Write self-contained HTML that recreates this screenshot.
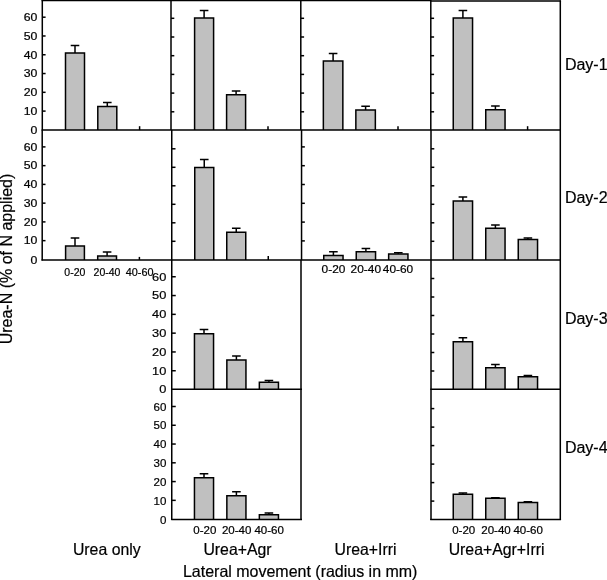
<!DOCTYPE html>
<html lang="en"><head><meta charset="utf-8"><title>Urea-N lateral movement</title>
<style>html,body{margin:0;padding:0;background:#fff}body{width:607px;height:580px;overflow:hidden}svg{display:block}</style>
</head><body>
<svg width="607" height="580" viewBox="0 0 607 580">
<rect width="607" height="580" fill="#fff"/>
<g stroke="#000" stroke-width="1.5" fill="none" stroke-linecap="butt" stroke-linejoin="miter">
<path d="M75.00 53.00V45.60M70.70 45.60H79.30"/>
<path d="M65.50 130.10V53.00H84.50V130.10" fill="#c0c0c0"/>
<path d="M107.30 106.40V102.60M103.00 102.60H111.60"/>
<path d="M97.80 130.10V106.40H116.80V130.10" fill="#c0c0c0"/>
<path d="M139.60 130.10V126.20"/>
<path d="M42.30 17.20h3.3"/>
<path d="M42.30 35.98h3.3"/>
<path d="M42.30 54.76h3.3"/>
<path d="M42.30 73.54h3.3"/>
<path d="M42.30 92.32h3.3"/>
<path d="M42.30 111.10h3.3"/>
<path d="M204.10 18.00V10.40M199.80 10.40H208.40"/>
<path d="M194.60 130.10V18.00H213.60V130.10" fill="#c0c0c0"/>
<path d="M236.10 94.70V90.90M231.80 90.90H240.40"/>
<path d="M226.60 130.10V94.70H245.60V130.10" fill="#c0c0c0"/>
<path d="M268.00 130.10V126.20"/>
<path d="M171.00 18.30h3.3"/>
<path d="M171.00 37.00h3.3"/>
<path d="M171.00 55.70h3.3"/>
<path d="M171.00 74.40h3.3"/>
<path d="M171.00 93.10h3.3"/>
<path d="M171.00 111.80h3.3"/>
<path d="M333.10 61.00V53.60M328.80 53.60H337.40"/>
<path d="M323.35 130.10V61.00H342.85V130.10" fill="#c0c0c0"/>
<path d="M365.60 110.00V106.20M361.30 106.20H369.90"/>
<path d="M355.85 130.10V110.00H375.35V130.10" fill="#c0c0c0"/>
<path d="M398.00 130.10V126.20"/>
<path d="M300.80 18.30h3.3"/>
<path d="M300.80 37.00h3.3"/>
<path d="M300.80 55.70h3.3"/>
<path d="M300.80 74.40h3.3"/>
<path d="M300.80 93.10h3.3"/>
<path d="M300.80 111.80h3.3"/>
<path d="M462.90 18.00V10.40M458.60 10.40H467.20"/>
<path d="M453.25 130.10V18.00H472.55V130.10" fill="#c0c0c0"/>
<path d="M495.40 109.70V105.90M491.10 105.90H499.70"/>
<path d="M485.75 130.10V109.70H505.05V130.10" fill="#c0c0c0"/>
<path d="M527.60 130.10V126.20"/>
<path d="M430.80 18.30h3.3"/>
<path d="M430.80 37.00h3.3"/>
<path d="M430.80 55.70h3.3"/>
<path d="M430.80 74.40h3.3"/>
<path d="M430.80 93.10h3.3"/>
<path d="M430.80 111.80h3.3"/>
<path d="M75.00 245.90V237.90M70.70 237.90H79.30"/>
<path d="M65.60 259.90V245.90H84.40V259.90" fill="#c0c0c0"/>
<path d="M107.10 255.90V251.90M102.80 251.90H111.40"/>
<path d="M97.70 259.90V255.90H116.50V259.90" fill="#c0c0c0"/>
<path d="M139.40 259.90V256.90"/>
<path d="M42.20 146.90h3.3"/>
<path d="M42.20 165.65h3.3"/>
<path d="M42.20 184.40h3.3"/>
<path d="M42.20 203.15h3.3"/>
<path d="M42.20 221.90h3.3"/>
<path d="M42.20 240.65h3.3"/>
<path d="M204.25 167.40V159.40M199.95 159.40H208.55"/>
<path d="M194.75 259.90V167.40H213.75V259.90" fill="#c0c0c0"/>
<path d="M236.25 232.15V228.15M231.95 228.15H240.55"/>
<path d="M226.75 259.90V232.15H245.75V259.90" fill="#c0c0c0"/>
<path d="M268.25 259.90V256.00"/>
<path d="M171.75 148.80h3.75"/>
<path d="M171.75 167.30h3.75"/>
<path d="M171.75 185.80h3.75"/>
<path d="M171.75 204.30h3.75"/>
<path d="M171.75 222.80h3.75"/>
<path d="M171.75 241.30h3.75"/>
<path d="M333.40 255.60V251.70M329.10 251.70H337.70"/>
<path d="M323.75 259.90V255.60H343.05V259.90" fill="#c0c0c0"/>
<path d="M365.90 251.80V248.50M361.60 248.50H370.20"/>
<path d="M356.25 259.90V251.80H375.55V259.90" fill="#c0c0c0"/>
<path d="M398.30 253.90V252.70M394.00 252.70H402.60"/>
<path d="M388.65 259.90V253.90H407.95V259.90" fill="#c0c0c0"/>
<path d="M301.55 146.90h3.3"/>
<path d="M301.55 165.70h3.3"/>
<path d="M301.55 184.50h3.3"/>
<path d="M301.55 203.30h3.3"/>
<path d="M301.55 222.10h3.3"/>
<path d="M301.55 240.90h3.3"/>
<path d="M462.90 201.00V197.00M458.60 197.00H467.20"/>
<path d="M453.25 259.90V201.00H472.55V259.90" fill="#c0c0c0"/>
<path d="M495.40 228.20V224.90M491.10 224.90H499.70"/>
<path d="M485.75 259.90V228.20H505.05V259.90" fill="#c0c0c0"/>
<path d="M527.90 239.50V238.10M523.60 238.10H532.20"/>
<path d="M518.25 259.90V239.50H537.55V259.90" fill="#c0c0c0"/>
<path d="M431.00 148.80h3.3"/>
<path d="M431.00 167.30h3.3"/>
<path d="M431.00 185.80h3.3"/>
<path d="M431.00 204.30h3.3"/>
<path d="M431.00 222.80h3.3"/>
<path d="M431.00 241.30h3.3"/>
<path d="M204.00 333.65V329.40M199.70 329.40H208.30"/>
<path d="M194.45 389.30V333.65H213.55V389.30" fill="#c0c0c0"/>
<path d="M236.40 359.90V355.90M232.10 355.90H240.70"/>
<path d="M226.85 389.30V359.90H245.95V389.30" fill="#c0c0c0"/>
<path d="M268.90 382.15V380.50M264.60 380.50H273.20"/>
<path d="M259.35 389.30V382.15H278.45V389.30" fill="#c0c0c0"/>
<path d="M171.75 276.75h4.0"/>
<path d="M171.75 295.55h4.0"/>
<path d="M171.75 314.35h4.0"/>
<path d="M171.75 333.15h4.0"/>
<path d="M171.75 351.95h4.0"/>
<path d="M171.75 370.75h4.0"/>
<path d="M462.90 341.65V337.65M458.60 337.65H467.20"/>
<path d="M453.25 389.30V341.65H472.55V389.30" fill="#c0c0c0"/>
<path d="M495.40 367.65V364.40M491.10 364.40H499.70"/>
<path d="M485.75 389.30V367.65H505.05V389.30" fill="#c0c0c0"/>
<path d="M527.90 376.65V375.40M523.60 375.40H532.20"/>
<path d="M518.25 389.30V376.65H537.55V389.30" fill="#c0c0c0"/>
<path d="M431.00 278.50h3.3"/>
<path d="M431.00 297.00h3.3"/>
<path d="M431.00 315.50h3.3"/>
<path d="M431.00 334.00h3.3"/>
<path d="M431.00 352.50h3.3"/>
<path d="M431.00 371.00h3.3"/>
<path d="M204.00 477.70V473.70M199.70 473.70H208.30"/>
<path d="M194.45 519.40V477.70H213.55V519.40" fill="#c0c0c0"/>
<path d="M236.40 495.70V491.70M232.10 491.70H240.70"/>
<path d="M226.85 519.40V495.70H245.95V519.40" fill="#c0c0c0"/>
<path d="M268.90 514.70V513.10M264.60 513.10H273.20"/>
<path d="M259.35 519.40V514.70H278.45V519.40" fill="#c0c0c0"/>
<path d="M171.75 406.50h4.0"/>
<path d="M171.75 425.27h4.0"/>
<path d="M171.75 444.04h4.0"/>
<path d="M171.75 462.81h4.0"/>
<path d="M171.75 481.58h4.0"/>
<path d="M171.75 500.35h4.0"/>
<path d="M462.90 494.20V493.00M458.60 493.00H467.20"/>
<path d="M453.25 519.40V494.20H472.55V519.40" fill="#c0c0c0"/>
<path d="M495.40 498.20V497.70M491.10 497.70H499.70"/>
<path d="M485.75 519.40V498.20H505.05V519.40" fill="#c0c0c0"/>
<path d="M527.90 502.40V501.70M523.60 501.70H532.20"/>
<path d="M518.25 519.40V502.40H537.55V519.40" fill="#c0c0c0"/>
<path d="M431.00 408.60h3.3"/>
<path d="M431.00 427.10h3.3"/>
<path d="M431.00 445.60h3.3"/>
<path d="M431.00 464.10h3.3"/>
<path d="M431.00 482.60h3.3"/>
<path d="M431.00 501.10h3.3"/>
<path d="M41.6 0.5H430.8M430.8 1.0H561.05"/>
<path d="M41.6 130.1H560.3M41.5 259.9H560.3"/>
<path d="M171.3 389.3H302M430.3 389.3H560.3"/>
<path d="M171.3 519.4H302M430.2 519.4H561.05"/>
<path d="M42.3 0V130.1M42.2 130.1V260.6"/>
<path d="M171.0 0V130.1M171.75 130.1V520.1"/>
<path d="M300.8 0V130.1M301.55 130.1V259.9M301.0 259.9V520.1"/>
<path d="M430.8 0V130.1M431.0 130.1V520.1"/>
<path d="M560.3 0.4V520.1"/>
</g>
<g font-family="Liberation Sans, Arial, Helvetica, sans-serif" fill="#000" stroke="#000" stroke-width="0.2">
<text transform="translate(37.30 20.95) scale(1.17 1)" font-size="10.5" text-anchor="end">60</text>
<text transform="translate(37.30 39.73) scale(1.17 1)" font-size="10.5" text-anchor="end">50</text>
<text transform="translate(37.30 58.51) scale(1.17 1)" font-size="10.5" text-anchor="end">40</text>
<text transform="translate(37.30 77.29) scale(1.17 1)" font-size="10.5" text-anchor="end">30</text>
<text transform="translate(37.30 96.07) scale(1.17 1)" font-size="10.5" text-anchor="end">20</text>
<text transform="translate(37.30 114.85) scale(1.17 1)" font-size="10.5" text-anchor="end">10</text>
<text transform="translate(37.30 133.85) scale(1.17 1)" font-size="10.5" text-anchor="end">0</text>
<text transform="translate(37.30 150.65) scale(1.17 1)" font-size="10.5" text-anchor="end">60</text>
<text transform="translate(37.30 169.40) scale(1.17 1)" font-size="10.5" text-anchor="end">50</text>
<text transform="translate(37.30 188.15) scale(1.17 1)" font-size="10.5" text-anchor="end">40</text>
<text transform="translate(37.30 206.90) scale(1.17 1)" font-size="10.5" text-anchor="end">30</text>
<text transform="translate(37.30 225.65) scale(1.17 1)" font-size="10.5" text-anchor="end">20</text>
<text transform="translate(37.30 244.40) scale(1.17 1)" font-size="10.5" text-anchor="end">10</text>
<text transform="translate(37.30 263.65) scale(1.17 1)" font-size="10.5" text-anchor="end">0</text>
<text transform="translate(166.30 280.60) scale(1.095 1)" font-size="11.7" text-anchor="end">60</text>
<text transform="translate(166.30 299.40) scale(1.095 1)" font-size="11.7" text-anchor="end">50</text>
<text transform="translate(166.30 318.20) scale(1.095 1)" font-size="11.7" text-anchor="end">40</text>
<text transform="translate(166.30 337.00) scale(1.095 1)" font-size="11.7" text-anchor="end">30</text>
<text transform="translate(166.30 355.80) scale(1.095 1)" font-size="11.7" text-anchor="end">20</text>
<text transform="translate(166.30 374.60) scale(1.095 1)" font-size="11.7" text-anchor="end">10</text>
<text transform="translate(166.30 393.15) scale(1.095 1)" font-size="11.7" text-anchor="end">0</text>
<text transform="translate(166.30 410.65) scale(1.05 1)" font-size="11" text-anchor="end">60</text>
<text transform="translate(166.30 429.42) scale(1.05 1)" font-size="11" text-anchor="end">50</text>
<text transform="translate(166.30 448.19) scale(1.05 1)" font-size="11" text-anchor="end">40</text>
<text transform="translate(166.30 466.96) scale(1.05 1)" font-size="11" text-anchor="end">30</text>
<text transform="translate(166.30 485.73) scale(1.05 1)" font-size="11" text-anchor="end">20</text>
<text transform="translate(166.30 504.50) scale(1.05 1)" font-size="11" text-anchor="end">10</text>
<text transform="translate(166.30 523.55) scale(1.05 1)" font-size="11" text-anchor="end">0</text>
<text transform="translate(74.80 275.50) scale(1.000 1)" font-size="10.5" text-anchor="middle">0-20</text>
<text transform="translate(107.00 275.50) scale(1.000 1)" font-size="10.5" text-anchor="middle">20-40</text>
<text transform="translate(139.60 275.50) scale(1.035 1)" font-size="10.5" text-anchor="middle">40-60</text>
<text transform="translate(333.50 273.20) scale(1.080 1)" font-size="11" text-anchor="middle">0-20</text>
<text transform="translate(365.80 273.20) scale(1.080 1)" font-size="11" text-anchor="middle">20-40</text>
<text transform="translate(398.00 273.20) scale(1.080 1)" font-size="11" text-anchor="middle">40-60</text>
<text transform="translate(204.90 533.50) scale(1.100 1)" font-size="10.5" text-anchor="middle">0-20</text>
<text transform="translate(236.70 533.50) scale(1.100 1)" font-size="10.5" text-anchor="middle">20-40</text>
<text transform="translate(269.20 533.50) scale(1.100 1)" font-size="10.5" text-anchor="middle">40-60</text>
<text transform="translate(463.70 533.50) scale(1.100 1)" font-size="10.5" text-anchor="middle">0-20</text>
<text transform="translate(496.00 533.50) scale(1.100 1)" font-size="10.5" text-anchor="middle">20-40</text>
<text transform="translate(528.20 533.50) scale(1.100 1)" font-size="10.5" text-anchor="middle">40-60</text>
<text x="564.9" y="69.6" font-size="16">Day-1</text>
<text x="564.9" y="202.8" font-size="16">Day-2</text>
<text x="564.9" y="324.2" font-size="16">Day-3</text>
<text x="564.9" y="452.6" font-size="16">Day-4</text>
<text transform="translate(106.8 554.6) scale(0.99 1.07)" font-size="16" text-anchor="middle">Urea only</text>
<text transform="translate(237.5 554.6) scale(0.99 1.07)" font-size="16" text-anchor="middle">Urea+Agr</text>
<text transform="translate(365.5 554.6) scale(0.99 1.07)" font-size="16" text-anchor="middle">Urea+Irri</text>
<text transform="translate(496.6 554.6) scale(0.99 1.07)" font-size="16" text-anchor="middle">Urea+Agr+Irri</text>
<text transform="translate(300.2 577.2) scale(1.0 1.07)" font-size="16" text-anchor="middle">Lateral movement (radius in mm)</text>
<text transform="translate(11.7 259) rotate(-90) scale(1.0 1.05)" font-size="16" text-anchor="middle">Urea-N (% of N applied)</text>
</g></svg>
</body></html>
